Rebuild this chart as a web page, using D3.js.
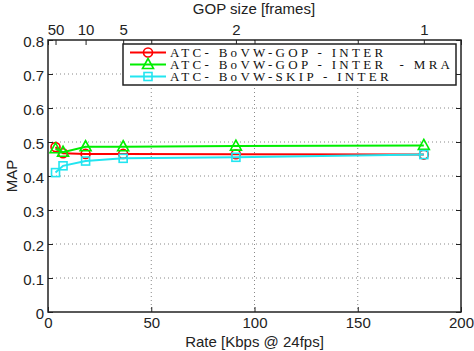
<!DOCTYPE html>
<html>
<head>
<meta charset="utf-8">
<script src="https://cdn.jsdelivr.net/npm/d3@7"></script>
<style>
  body { margin: 0; background: #fff; }
  svg { display: block; }
  .tick text { font-family: "Liberation Sans", Arial, sans-serif; font-size: 15px; fill: #222; }
  .lbl { font-family: "Liberation Sans", Arial, sans-serif; font-size: 15px; fill: #222; }
  .leg { font-family: "Liberation Serif", "DejaVu Serif", serif; font-size: 13px; fill: #111; letter-spacing: 3.3px; }
</style>
</head>
<body>
<svg width="474" height="351"></svg>
<script>
const WIDTH = 474;
const HEIGHT = 351;

// GOP sizes and the resulting bit rates (Kbps @ 24fps)
const gopSizes = [50, 25, 10, 5, 2, 1];
const rates = [3.64, 7.28, 18.2, 36.4, 91, 182];

const seriesNames = [
  "ATC- BoVW-GOP - INTER",
  "ATC- BoVW-GOP - INTER  - MRA",
  "ATC- BoVW-SKIP - INTER"
];
const mapGop = [0.485, 0.467, 0.465, 0.465, 0.464, 0.463];
const mapGopMra = [0.480, 0.470, 0.486, 0.486, 0.488, 0.490];
const mapSkip = [0.410, 0.430, 0.444, 0.452, 0.455, 0.463];

const seriesColors = ["#ff0000", "#00ee00", "#22e5f0"];
const seriesMarkers = ["circle", "triangle", "square"];

const xTicks = [0, 50, 100, 150, 200];
const yTicks = [0, 0.1, 0.2, 0.3, 0.4, 0.5, 0.6, 0.7, 0.8];
const gopTicks = [50, 10, 5, 2, 1];
const gopTickRates = [3.64, 18.2, 36.4, 91, 182];

const margin = { top: 40, right: 13, bottom: 39, left: 48 };
const w = WIDTH - margin.left - margin.right;
const h = HEIGHT - margin.top - margin.bottom;

const x = d3.scaleLinear().domain([0, 200]).range([0, w]);
const y = d3.scaleLinear().domain([0, 0.8]).range([h, 0]);

const svg = d3.select("svg");
const g = svg.append("g").attr("transform", `translate(${margin.left},${margin.top})`);

// grid
g.append("g")
  .selectAll("line")
  .data(xTicks.slice(1, -1))
  .join("line")
  .attr("x1", (d) => x(d)).attr("x2", (d) => x(d))
  .attr("y1", 0).attr("y2", h)
  .attr("stroke", "#888").attr("stroke-dasharray", "1,3");
g.append("g")
  .selectAll("line")
  .data(yTicks.slice(1, -1))
  .join("line")
  .attr("x1", 0).attr("x2", w)
  .attr("y1", (d) => y(d)).attr("y2", (d) => y(d))
  .attr("stroke", "#888").attr("stroke-dasharray", "1,3");

// axes (ticks pointing inward, matlab style)
function styleAxis(sel) {
  sel.select(".domain").remove();
  sel.selectAll(".tick line").attr("stroke", "#222");
}

g.append("g").attr("transform", `translate(0,${h})`)
  .call(d3.axisBottom(x).tickValues(xTicks).tickSizeInner(-5).tickSizeOuter(0).tickPadding(8).tickFormat(d3.format("d")))
  .call(styleAxis)
  .selectAll("text").attr("dy", "0.55em");
g.append("g")
  .call(d3.axisTop(x).tickValues(xTicks).tickSizeInner(-5).tickSizeOuter(0).tickFormat(""))
  .call(styleAxis);
g.append("g")
  .call(d3.axisLeft(y).tickValues(yTicks).tickSizeInner(-5).tickSizeOuter(0).tickPadding(4)
    .tickFormat((d) => (d === 0 ? "0" : d3.format(".1f")(d))))
  .call(styleAxis)
  .selectAll("text").attr("dy", "0.4em");
g.append("g").attr("transform", `translate(${w},0)`)
  .call(d3.axisRight(y).tickValues(yTicks).tickSizeInner(-5).tickSizeOuter(0).tickFormat(""))
  .call(styleAxis);

// top GOP axis
const gopAxis = g.append("g")
  .call(d3.axisTop(x).tickValues(gopTickRates).tickSizeInner(-5).tickSizeOuter(0).tickPadding(7)
    .tickFormat((d, i) => gopTicks[i]))
  .call(styleAxis);
gopAxis.selectAll("text").attr("dy", "0.1em");

g.append("rect")
  .attr("width", w).attr("height", h)
  .attr("fill", "none").attr("stroke", "#222").attr("stroke-width", 1.5);

// series
const allSeries = [mapGop, mapGopMra, mapSkip];
const line = d3.line().x((d, i) => x(rates[i])).y((d) => y(d));

function drawMarker(sel, type, color) {
  if (type === "circle") {
    sel.append("circle").attr("r", 4.5);
  } else if (type === "triangle") {
    sel.append("path").attr("d", "M0,-6L5.5,4L-5.5,4Z");
  } else {
    sel.append("rect").attr("x", -4).attr("y", -4).attr("width", 8).attr("height", 8);
  }
  sel.selectAll("*").attr("fill", "none").attr("stroke", color).attr("stroke-width", 1.6);
}

allSeries.forEach((vals, k) => {
  g.append("path")
    .datum(vals)
    .attr("d", line)
    .attr("fill", "none")
    .attr("stroke", seriesColors[k])
    .attr("stroke-width", 2);
  g.append("g")
    .selectAll("g")
    .data(vals)
    .join("g")
    .attr("transform", (d, i) => `translate(${x(rates[i])},${y(d)})`)
    .each(function () { drawMarker(d3.select(this), seriesMarkers[k], seriesColors[k]); });
});

// legend
const legend = svg.append("g").attr("transform", "translate(123,44)");
legend.append("rect")
  .attr("width", 333).attr("height", 41)
  .attr("fill", "#fff").attr("stroke", "#222").attr("stroke-width", 1.5);
const rowY = [8.5, 20.5, 32.5];
seriesNames.forEach((name, k) => {
  const row = legend.append("g").attr("transform", `translate(0,${rowY[k]})`);
  row.append("line").attr("x1", 7).attr("x2", 43)
    .attr("stroke", seriesColors[k]).attr("stroke-width", 2);
  drawMarker(row.append("g").attr("transform", "translate(25,0)"), seriesMarkers[k], seriesColors[k]);
  row.append("text").attr("class", "leg").attr("x", 47).attr("y", 4.5).text(name)
    .style("white-space", "pre");
});

// labels
svg.append("text").attr("class", "lbl")
  .attr("x", margin.left + x(100)).attr("y", 347)
  .attr("text-anchor", "middle").text("Rate [Kbps @ 24fps]");
svg.append("text").attr("class", "lbl")
  .attr("x", 254).attr("y", 14)
  .attr("text-anchor", "middle").text("GOP size [frames]");
svg.append("text").attr("class", "lbl")
  .attr("transform", `translate(17,${margin.top + y(0.4)}) rotate(-90)`)
  .attr("text-anchor", "middle").text("MAP");
</script>
</body>
</html>
